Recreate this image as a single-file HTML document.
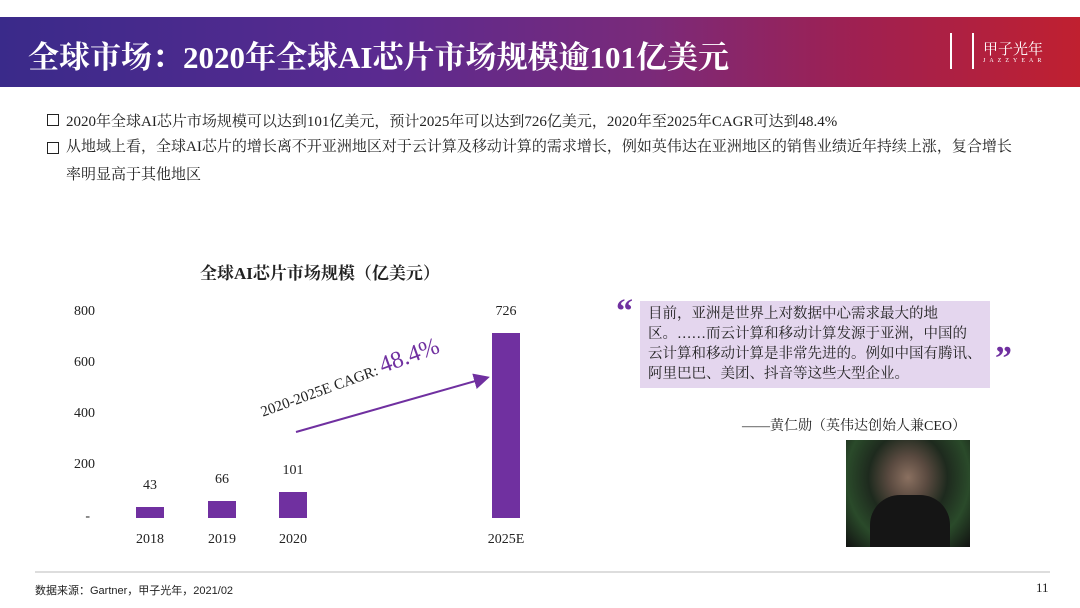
<!DOCTYPE html>
<html><head><meta charset="utf-8"><style>
body{margin:0;width:1080px;height:608px;background:#fff;position:relative;overflow:hidden;font-family:"Liberation Serif","Noto Serif CJK SC",serif;color:#222}
.ab{position:absolute}
</style></head><body>
<div class="ab" style="left:0;top:17px;width:1080px;height:70px;background:linear-gradient(90deg,#3a2a8a 0%,#5a2a90 35%,#7a2a7a 60%,#a02050 80%,#c02030 100%)"></div>
<div class="ab" style="left:28px;top:32px;font-size:31px;font-weight:bold;color:#fff">全球市场：2020年全球AI芯片市场规模逾101亿美元</div>
<div class="ab" style="left:950px;top:33px;width:20px;height:36px;border-left:2px solid #fff;border-right:2px solid #fff"></div>
<div class="ab" style="left:983px;top:38px;font-size:15px;color:#fff">甲子光年</div>
<div class="ab" style="left:983px;top:58px;font-size:6px;color:#fff;letter-spacing:4px">JAZZYEAR</div>

<div class="ab" style="left:47px;top:114px;width:10px;height:10px;border:1.5px solid #222"></div>
<div class="ab" style="left:66px;top:110px;font-size:15px">2020年全球AI芯片市场规模可以达到101亿美元，预计2025年可以达到726亿美元，2020年至2025年CAGR可达到48.4%</div>
<div class="ab" style="left:47px;top:142px;width:10px;height:10px;border:1.5px solid #222"></div>
<div class="ab" style="left:66px;top:133px;font-size:15px;line-height:28px;white-space:nowrap">从地域上看，全球AI芯片的增长离不开亚洲地区对于云计算及移动计算的需求增长，例如英伟达在亚洲地区的销售业绩近年持续上涨，复合增长<br>率明显高于其他地区</div>

<div class="ab" style="left:200px;top:259px;font-size:17px;font-weight:bold">全球AI芯片市场规模（亿美元）</div>
<div class="ab" style="left:50px;top:304px;width:45px;text-align:right;font-size:14px">800</div>
<div class="ab" style="left:50px;top:355px;width:45px;text-align:right;font-size:14px">600</div>
<div class="ab" style="left:50px;top:406px;width:45px;text-align:right;font-size:14px">400</div>
<div class="ab" style="left:50px;top:457px;width:45px;text-align:right;font-size:14px">200</div>
<div class="ab" style="left:50px;top:509px;width:40px;text-align:right;font-size:14px">-</div>

<div class="ab" style="left:136px;top:507px;width:28px;height:11px;background:#7030a0"></div>
<div class="ab" style="left:208px;top:501px;width:28px;height:17px;background:#7030a0"></div>
<div class="ab" style="left:279px;top:492px;width:28px;height:26px;background:#7030a0"></div>
<div class="ab" style="left:492px;top:333px;width:28px;height:185px;background:#7030a0"></div>
<div class="ab" style="left:130px;top:478px;width:40px;text-align:center;font-size:14px">43</div>
<div class="ab" style="left:202px;top:472px;width:40px;text-align:center;font-size:14px">66</div>
<div class="ab" style="left:273px;top:463px;width:40px;text-align:center;font-size:14px">101</div>
<div class="ab" style="left:486px;top:304px;width:40px;text-align:center;font-size:14px">726</div>
<div class="ab" style="left:125px;top:532px;width:50px;text-align:center;font-size:14px">2018</div>
<div class="ab" style="left:197px;top:532px;width:50px;text-align:center;font-size:14px">2019</div>
<div class="ab" style="left:268px;top:532px;width:50px;text-align:center;font-size:14px">2020</div>
<div class="ab" style="left:476px;top:532px;width:60px;text-align:center;font-size:14px">2025E</div>

<svg class="ab" style="left:0;top:0" width="1080" height="608">
<defs><marker id="m" markerWidth="8" markerHeight="8" refX="6" refY="4" orient="auto"><path d="M0,0L8,4L0,8z" fill="#7030a0"/></marker></defs>
<line x1="296" y1="432" x2="486" y2="378" stroke="#7030a0" stroke-width="2" marker-end="url(#m)"/>
<line x1="35" y1="572" x2="1050" y2="572" stroke="#bbb" stroke-width="1"/>
</svg>
<div class="ab" style="left:256px;top:398px;transform:rotate(-20deg);transform-origin:left top;white-space:nowrap"><span style="font-size:15px">2020-2025E CAGR: </span><span style="font-size:24px;color:#7030a0">48.4%</span></div>

<div class="ab" style="left:616px;top:293px;font-size:34px;font-weight:bold;color:#7030a0">“</div>
<div class="ab" style="left:640px;top:301px;width:350px;height:87px;background:#e4d6ee"></div>
<div class="ab" style="left:648px;top:304px;font-size:14.5px;line-height:20px;white-space:nowrap">目前，亚洲是世界上对数据中心需求最大的地<br>区。……而云计算和移动计算发源于亚洲，中国的<br>云计算和移动计算是非常先进的。例如中国有腾讯、<br>阿里巴巴、美团、抖音等这些大型企业。</div>
<div class="ab" style="left:995px;top:340px;font-size:34px;font-weight:bold;color:#7030a0">”</div>
<div class="ab" style="left:742px;top:415px;font-size:14px">——黄仁勋（英伟达创始人兼CEO）</div>
<div class="ab" style="left:846px;top:440px;width:124px;height:107px;background:radial-gradient(ellipse at 50% 35%,#8a7060 0%,#5a4a40 22%,#1e2a1e 45%,#2a4a2a 70%,#111 100%)"></div>
<div class="ab" style="left:870px;top:495px;width:80px;height:52px;background:#151515;border-radius:30px 30px 0 0"></div>

<div class="ab" style="left:35px;top:582px;font-size:11px;font-family:'Liberation Sans','Noto Sans CJK SC',sans-serif">数据来源：Gartner，甲子光年，2021/02</div>
<div class="ab" style="left:1036px;top:580px;font-size:13px">11</div>
</body></html>
